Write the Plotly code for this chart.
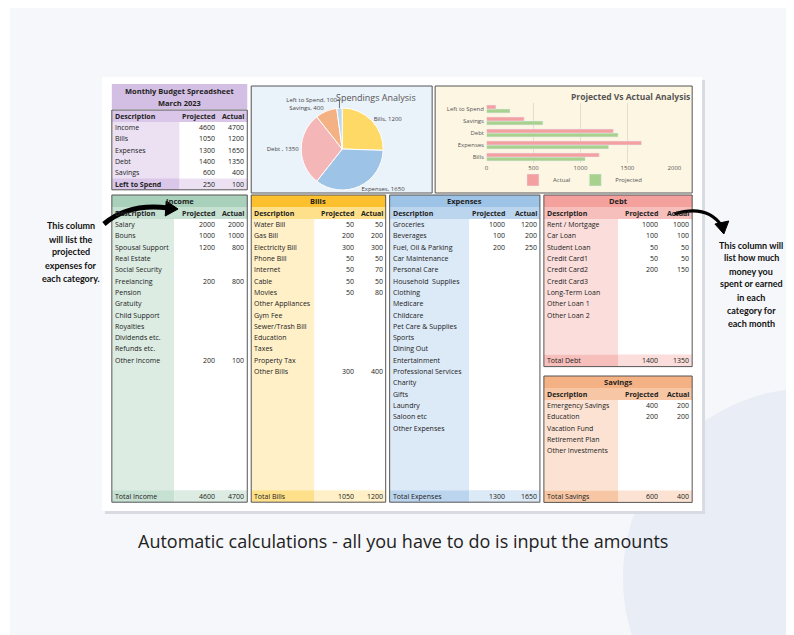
import plotly.graph_objects as go

W, H = 794, 635

def px(x):
    return x / W

def py(y):
    return 1 - y / H

# ---- data ----
summary_names = ["Income", "Bills", "Expenses", "Debt", "Savings", "Left to Spend"]
summary_proj = [4600, 1050, 1300, 1400, 600, 250]
summary_act = [4700, 1200, 1650, 1350, 400, 100]

pie_labels = ["Bills", "Expenses", "Debt ", "Savings", "Left to Spend"]
pie_values = [1200, 1650, 1350, 400, 100]

bar_cats = ["Bills", "Expenses", "Debt", "Savings", "Left to Spend"]
bar_proj = [1050, 1300, 1400, 600, 250]
bar_act = [1200, 1650, 1350, 400, 100]

income_names = ["Salary", "Bouns", "Spousal Support", "Real Estate", "Social Security", "Freelancing",
                "Pension", "Gratuity", "Child Support", "Royalties", "Dividends etc.", "Refunds etc.", "Other Income"]
income_proj = [2000, 1000, 1200, None, None, 200, None, None, None, None, None, None, 200]
income_act = [2000, 1000, 800, None, None, 800, None, None, None, None, None, None, 100]

bills_names = ["Water Bill", "Gas Bill", "Electricity Bill", "Phone Bill", "Internet", "Cable", "Movies",
               "Other Appliances", "Gym Fee", "Sewer/Trash Bill", "Education", "Taxes", "Property Tax", "Other Bills"]
bills_proj = [50, 200, 300, 50, 50, 50, 50, None, None, None, None, None, None, 300]
bills_act = [50, 200, 300, 50, 70, 50, 80, None, None, None, None, None, None, 400]

exp_names = ["Groceries", "Beverages", "Fuel, Oil & Parking", "Car Maintenance", "Personal Care",
             "Household  Supplies", "Clothing", "Medicare", "Childcare", "Pet Care & Supplies", "Sports",
             "Dining Out", "Entertainment", "Professional Services", "Charity", "Gifts", "Laundry",
             "Saloon etc", "Other Expenses"]
exp_proj = [1000, 100, 200]
exp_act = [1200, 200, 250]

debt_names = ["Rent / Mortgage", "Car Loan", "Student Loan", "Credit Card1", "Credit Card2", "Credit Card3",
              "Long-Term Loan", "Other Loan 1", "Other Loan 2"]
debt_proj = [1000, 100, 50, 50, 200]
debt_act = [1000, 100, 50, 50, 150]

sav_names = ["Emergency Savings", "Education", "Vacation Fund", "Retirement Plan", "Other Investments"]
sav_proj = [400, 200]
sav_act = [200, 200]

FONT = "Open Sans"
shapes, annots, traces = [], [], []


def rect(x0, y0, x1, y1, fill, line="rgba(0,0,0,0)", lw=0, layer="below"):
    shapes.append(dict(type="rect", xref="paper", yref="paper", x0=px(x0), x1=px(x1), y0=py(y1), y1=py(y0),
                       fillcolor=fill, line=dict(color=line, width=lw), layer=layer))


def text(x, y, s, size=8, bold=False, color="#222", xanchor="center", family=FONT):
    annots.append(dict(xref="paper", yref="paper", x=px(x), y=py(y), text=f"<b>{s}</b>" if bold else s,
                       showarrow=False, font=dict(size=size, color=color, family=family),
                       xanchor=xanchor, yanchor="middle", borderpad=0))


def fmt(v):
    return "" if v is None else str(v)


def block(x0, x1, y0, title, names, proj, act, n_rows, tot_label, tot, dark, mid, light,
          split=0.48, row_h=11.3, bold_last=False, fs=7):
    top = y0
    if title:
        rect(x0, y0, x1, y0 + 12, dark)
        text((x0 + x1) / 2, y0 + 6, title, bold=True, size=7.5)
        top = y0 + 12
    xs = x0 + (x1 - x0) * split
    xp = x1 - (x1 - x0) * 0.2 - 4
    # header row
    rect(x0, top, x1, top + 12, mid)
    text(x0 + 2, top + 6, "Description", bold=True, size=fs, xanchor="left")
    text(xp, top + 6, "Projected", bold=True, size=fs, xanchor="right")
    text(x1 - 2, top + 6, "Actual", bold=True, size=fs, xanchor="right")
    body = top + 12
    end = body + n_rows * row_h
    rect(x0, body, xs, end, light)
    rect(xs, body, x1, end, "white")
    for i, nm in enumerate(names):
        yc = body + (i + 0.5) * row_h
        last = bold_last and i == len(names) - 1
        if last:
            rect(x0, yc - row_h / 2, xs, yc + row_h / 2, mid)
            rect(xs, yc - row_h / 2, x1, yc + row_h / 2, light)
        text(x0 + 2, yc, nm, size=fs, xanchor="left", bold=last)
        if i < len(proj):
            text(xp, yc, fmt(proj[i]), size=fs, xanchor="right")
        if i < len(act):
            text(x1 - 2, yc, fmt(act[i]), size=fs, xanchor="right")
    if tot_label:
        rect(x0, end, xs, end + 12, mid)
        rect(xs, end, x1, end + 12, light)
        text(x0 + 2, end + 6, tot_label, size=fs, xanchor="left")
        text(xp, end + 6, str(tot[0]), size=fs, xanchor="right")
        text(x1 - 2, end + 6, str(tot[1]), size=fs, xanchor="right")
        end += 12
    rect(x0, y0, x1, end, "rgba(0,0,0,0)", line="#555", lw=1, layer="above")


# page background + panel
rect(0, 0, W, H, "#f6f7fa")
shapes.append(dict(type="circle", xref="paper", yref="paper", x0=px(620), x1=px(1000), y0=py(760), y1=py(380),
                   fillcolor="#e8edf6", line=dict(width=0), layer="below"))
rect(96, 72, 703, 506, "#d8dbe2")
rect(93, 69, 700, 503, "white")

# summary
rect(103, 76, 240, 101, "#d3bfe3")
text(171, 83, "Monthly Budget Spreadsheet", bold=True, size=7.5)
text(171, 95, "March 2023", bold=True, size=7.5)
block(103, 240, 102, None, summary_names, summary_proj, summary_act, 6, None, None,
      "#d3bfe3", "#d9c6e8", "#ece1f3", row_h=11.3, bold_last=True, split=0.5)

# pie panel
rect(244, 78, 427, 185, "#eaf2fa", line="#555", lw=1)
text(370, 89, "Spendings Analysis", size=9, color="#555")
traces.append(go.Pie(labels=pie_labels, values=pie_values, sort=False, direction="clockwise", rotation=0,
                     marker=dict(colors=["#ffd966", "#9dc3e6", "#f4b6b6", "#f4b183", "#bdd7ee"],
                                 line=dict(color="white", width=1)),
                     texttemplate="%{label}, %{value}", textposition="outside",
                     textfont=dict(size=6, family=FONT, color="#444"),
                     domain=dict(x=[px(292), px(380)], y=[py(182), py(100)]), showlegend=False, hoverinfo="label+value"))

# bar panel
rect(430, 78, 690, 185, "#fdf6e3", line="#555", lw=1)
text(628, 88, "Projected Vs Actual Analysis", size=8.5, bold=True, color="#555")
traces.append(go.Bar(y=bar_cats, x=bar_proj, name="Projected", orientation="h", marker_color="#a9d18e",
                     xaxis="x", yaxis="y"))
traces.append(go.Bar(y=bar_cats, x=bar_act, name="Actual", orientation="h", marker_color="#f4a0a0",
                     xaxis="x", yaxis="y"))

# lower tables
block(103, 240, 187, "Income", income_names, income_proj, income_act, 24, "Total Income", (4600, 4700),
      "#a8d0bb", "#c6e0d2", "#dcece3", split=0.46)
block(244, 380, 187, "Bills", bills_names, bills_proj, bills_act, 24, "Total Bills", (1050, 1200),
      "#fcc02e", "#ffe08a", "#fff0c8", split=0.47)
block(384, 536, 187, "Expenses", exp_names, exp_proj, exp_act, 24, "Total Expenses", (1300, 1650),
      "#9dc3e6", "#bcd5ee", "#dce9f6", split=0.53)
block(540, 690, 187, "Debt", debt_names, debt_proj, debt_act, 12, "Total Debt", (1400, 1350),
      "#f4a09c", "#f7bfbb", "#fbdedb", split=0.5)
block(540, 690, 368, "Savings", sav_names, sav_proj, sav_act, 8, "Total Savings", (600, 400),
      "#f4b183", "#f7c6a4", "#fbe2d2", split=0.5)

# side notes
for i, s in enumerate(["This column", "will list the", "projected", "expenses for", "each category."]):
    text(62, 218 + i * 13, s, size=9, bold=True, color="#111", family="Lato")
for i, s in enumerate(["This column will", "list how much", "money you", "spent or earned", "in each",
                       "category for", "each month"]):
    text(750, 237 + i * 13, s, size=9, bold=True, color="#111", family="Lato")

# curved arrows
shapes.append(dict(type="path", xref="paper", yref="paper",
                   path=f"M {px(95)},{py(216)} Q {px(120)},{py(195)} {px(160)},{py(200)}",
                   line=dict(color="black", width=5)))
shapes.append(dict(type="path", xref="paper", yref="paper",
                   path=f"M {px(158)},{py(193)} L {px(170)},{py(201)} L {px(157)},{py(208)} Z",
                   fillcolor="black", line=dict(color="black", width=1)))
shapes.append(dict(type="path", xref="paper", yref="paper",
                   path=f"M {px(672)},{py(206)} Q {px(705)},{py(196)} {px(720)},{py(218)}",
                   line=dict(color="black", width=3)))
shapes.append(dict(type="path", xref="paper", yref="paper",
                   path=f"M {px(713)},{py(216)} L {px(722)},{py(226)} L {px(727)},{py(213)} Z",
                   fillcolor="black", line=dict(color="black", width=1)))

text(397, 533, "Automatic calculations - all you have to do is input the amounts", size=18, color="#222",
     family="Open Sans")

fig = go.Figure(traces)
fig.update_layout(
    width=W, height=H, margin=dict(l=0, r=0, t=0, b=0), paper_bgcolor="white", plot_bgcolor="rgba(0,0,0,0)",
    shapes=shapes, annotations=annots, barmode="group", bargap=0.35, bargroupgap=0,
    xaxis=dict(domain=[px(482), px(672)], range=[0, 2000], dtick=500, showgrid=True, gridcolor="#e2ddd0",
               zeroline=False, tickfont=dict(size=6, family=FONT, color="#555"), anchor="y"),
    yaxis=dict(domain=[py(155), py(95)], tickfont=dict(size=6, family=FONT, color="#555"), anchor="x",
               showgrid=False, ticksuffix=" "),
    legend=dict(orientation="h", x=px(577), xanchor="center", y=py(172), yanchor="middle",
                traceorder="reversed", font=dict(size=6, family=FONT, color="#555"), bgcolor="rgba(0,0,0,0)",
                itemwidth=30),
)
fig.write_html("out.html")
